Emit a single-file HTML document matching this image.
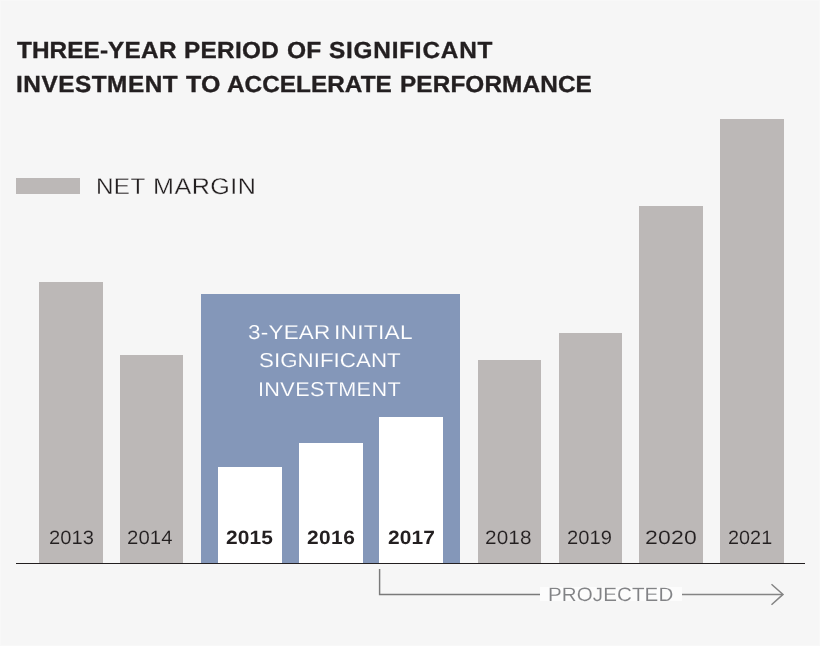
<!DOCTYPE html>
<html><head><meta charset="utf-8">
<style>
html,body{margin:0;padding:0;}
body{box-shadow:inset 0 0 0 1px #f8f8f8;width:820px;height:646px;background:#f6f6f6;position:relative;overflow:hidden;font-family:"Liberation Sans",sans-serif;color:#231f20;}
.abs{position:absolute;}
.bar{position:absolute;background:#bcb8b7;}
.wbar{position:absolute;background:#ffffff;}
.w{position:absolute;white-space:nowrap;line-height:1;transform-origin:0 0;display:block;text-rendering:geometricPrecision;}
.g{position:absolute;left:0;top:0;width:0;height:0;margin:0;padding:0;font-size:0;font-weight:normal;}
</style></head><body>
<div class="bar" style="left:16px;top:177.6px;width:64px;height:16.1px;"></div>

<div class="bar" style="left:39px;top:281.8px;width:64px;height:281.2px;"></div>
<div class="bar" style="left:120px;top:354.5px;width:63.3px;height:208.5px;"></div>

<div class="abs" style="left:201.3px;top:294px;width:258.7px;height:269px;background:#8497b9;"></div>
<div class="wbar" style="left:218px;top:467px;width:64px;height:96px;"></div>
<div class="wbar" style="left:299px;top:443px;width:63.5px;height:120px;"></div>
<div class="wbar" style="left:379.3px;top:417px;width:64.2px;height:146px;"></div>

<div class="bar" style="left:478px;top:360px;width:63.4px;height:203px;"></div>
<div class="bar" style="left:558.5px;top:332.5px;width:63.6px;height:230.5px;"></div>
<div class="bar" style="left:639px;top:205.5px;width:64px;height:357.5px;"></div>
<div class="bar" style="left:720px;top:119px;width:63.7px;height:444px;"></div>

<div class="abs" style="left:16px;top:562.65px;width:788.7px;height:1.65px;background:#231f20;"></div>

<svg class="abs" style="left:0;top:560px;" width="820" height="86" viewBox="0 560 820 86">
  <path d="M379.6 569 V594.4 H540" fill="none" stroke="#7a7a7a" stroke-width="1.45"/>
  <path d="M681.8 594.4 H782" fill="none" stroke="#848484" stroke-width="1.45"/>
  <path d="M771.5 584.3 L783 594.4 L771.5 604.7" fill="none" stroke="#848484" stroke-width="1.5"/>
</svg>
<div class="abs" style="left:540px;top:586.9px;width:141.8px;height:14.3px;background:#fcfcfc;"></div>
<h1 class="g"><span class="w" style="left:17.10px;top:38.73px;font-size:23.2px;font-weight:bold;letter-spacing:0.081px;transform:scaleX(1.05);color:#231f20;-webkit-text-stroke:0.35px #231f20">THREE-</span><span class="w" style="left:108.24px;top:38.73px;font-size:23.2px;font-weight:bold;letter-spacing:0.287px;transform:scaleX(1.05);color:#231f20;-webkit-text-stroke:0.35px #231f20">YEAR</span> <span class="w" style="left:183.83px;top:38.73px;font-size:23.2px;font-weight:bold;letter-spacing:0.298px;transform:scaleX(1.05);color:#231f20;-webkit-text-stroke:0.35px #231f20">PERIOD</span> <span class="w" style="left:286.70px;top:38.73px;font-size:23.2px;font-weight:bold;letter-spacing:0.222px;transform:scaleX(1.06);color:#231f20;-webkit-text-stroke:0.35px #231f20">OF</span> <span class="w" style="left:329.28px;top:38.73px;font-size:23.2px;font-weight:bold;letter-spacing:0.747px;transform:scaleX(1.05);color:#231f20;-webkit-text-stroke:0.35px #231f20">SIGNIFICANT</span> <span class="w" style="left:16.12px;top:73.25px;font-size:23.2px;font-weight:bold;letter-spacing:0.504px;transform:scaleX(1.05);color:#231f20;-webkit-text-stroke:0.35px #231f20">INVESTMENT</span> <span class="w" style="left:185.90px;top:73.25px;font-size:23.2px;font-weight:bold;letter-spacing:0.256px;transform:scaleX(1.075);color:#231f20;-webkit-text-stroke:0.35px #231f20">TO</span> <span class="w" style="left:226.78px;top:73.25px;font-size:23.2px;font-weight:bold;letter-spacing:0.026px;transform:scaleX(1.05);color:#231f20;-webkit-text-stroke:0.35px #231f20">ACCELERATE</span> <span class="w" style="left:399.62px;top:73.25px;font-size:23.2px;font-weight:bold;letter-spacing:0.105px;transform:scaleX(1.05);color:#231f20;-webkit-text-stroke:0.35px #231f20">PERFORMANCE</span></h1>
<div class="g"><span class="w" style="left:95.98px;top:175.02px;font-size:22.9px;font-weight:normal;letter-spacing:0.325px;transform:scaleX(1.06);color:#231f20;-webkit-text-stroke:0.3px #f6f6f6">NET</span> <span class="w" style="left:153.20px;top:175.02px;font-size:22.9px;font-weight:normal;letter-spacing:0.416px;transform:scaleX(1.1);color:#231f20;-webkit-text-stroke:0.3px #f6f6f6">MARGIN</span></div>
<div class="g"><span class="w" style="left:247.68px;top:322.70px;font-size:20.1px;font-weight:normal;letter-spacing:0.186px;transform:scaleX(1.12);color:#fff;-webkit-text-stroke:0.12px #8497b9">3-YEAR</span> <span class="w" style="left:334.34px;top:322.70px;font-size:20.1px;font-weight:normal;letter-spacing:0.242px;transform:scaleX(1.13);color:#fff;-webkit-text-stroke:0.12px #8497b9">INITIAL</span></div>
<div class="g"><span class="w" style="left:258.89px;top:351.35px;font-size:20.1px;font-weight:normal;letter-spacing:0.038px;transform:scaleX(1.11);color:#fff;-webkit-text-stroke:0.12px #8497b9">SIGNIFICANT</span></div>
<div class="g"><span class="w" style="left:258.35px;top:380.40px;font-size:20.1px;font-weight:normal;letter-spacing:0.347px;transform:scaleX(1.075);color:#fff;-webkit-text-stroke:0.12px #8497b9">INVESTMENT</span></div>
<div class="g"><span class="w" style="left:49.35px;top:528.88px;font-size:19.2px;font-weight:normal;letter-spacing:0.012px;transform:scaleX(1.05);color:#231f20;-webkit-text-stroke:0.12px #bcb8b7">2013</span> <span class="w" style="left:127.34px;top:528.88px;font-size:19.2px;font-weight:normal;letter-spacing:0.093px;transform:scaleX(1.06);color:#231f20;-webkit-text-stroke:0.12px #bcb8b7">2014</span> <span class="w" style="left:226.18px;top:528.88px;font-size:19.2px;font-weight:bold;letter-spacing:0.109px;transform:scaleX(1.09);color:#231f20">2015</span> <span class="w" style="left:307.18px;top:528.88px;font-size:19.2px;font-weight:bold;letter-spacing:0.388px;transform:scaleX(1.09);color:#231f20">2016</span> <span class="w" style="left:388.18px;top:528.88px;font-size:19.2px;font-weight:bold;letter-spacing:0.095px;transform:scaleX(1.09);color:#231f20">2017</span> <span class="w" style="left:485.32px;top:528.88px;font-size:19.2px;font-weight:normal;letter-spacing:0.126px;transform:scaleX(1.08);color:#231f20;-webkit-text-stroke:0.12px #bcb8b7">2018</span> <span class="w" style="left:566.65px;top:528.88px;font-size:19.2px;font-weight:normal;letter-spacing:0.043px;transform:scaleX(1.05);color:#231f20;-webkit-text-stroke:0.12px #bcb8b7">2019</span> <span class="w" style="left:645.30px;top:528.88px;font-size:19.2px;font-weight:normal;letter-spacing:0.148px;transform:scaleX(1.2);color:#231f20;-webkit-text-stroke:0.12px #bcb8b7">2020</span> <span class="w" style="left:728.27px;top:528.88px;font-size:19.2px;font-weight:normal;letter-spacing:0.057px;transform:scaleX(1.03);color:#231f20;-webkit-text-stroke:0.12px #bcb8b7">2021</span></div>
<div class="g"><span class="w" style="left:547.94px;top:585.65px;font-size:19.4px;font-weight:normal;letter-spacing:0.090px;transform:scaleX(1.06);color:#828386;-webkit-text-stroke:0.1px #fcfcfc">PROJECTED</span></div>

</body></html>
